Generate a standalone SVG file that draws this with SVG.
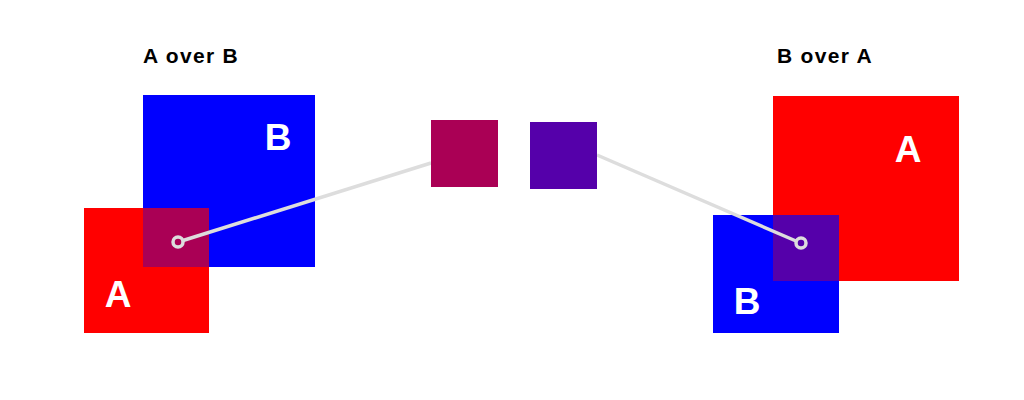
<svg xmlns="http://www.w3.org/2000/svg" width="1024" height="400" viewBox="0 0 1024 400">
<style>
.title{font-family:"Liberation Sans",Arial,sans-serif;font-weight:700;font-size:21px;letter-spacing:1.3px;fill:#000}
.lbl{font-family:"Liberation Sans",Arial,sans-serif;font-weight:700;font-size:37px;fill:#fff;text-anchor:middle}
.conn{stroke:#dddddd;stroke-width:3.5;fill:none}
</style>
<rect width="1024" height="400" fill="#fff"/>
<g id="left-title"><text class="title" x="143" y="63">A over B</text></g>
<g id="right-title"><text class="title" x="777" y="63">B over A</text></g>
<g id="left-B"><rect x="143" y="95" width="172" height="172" fill="#0000ff"/><text class="lbl" x="278" y="150">B</text></g>
<g id="left-A"><rect x="84" y="208" width="125" height="125" fill="#ff0000"/><text class="lbl" x="118" y="307">A</text></g>
<g id="left-overlap"><rect x="143" y="208" width="66" height="59" fill="#aa0055"/></g>
<g id="right-A"><rect x="773" y="96" width="186" height="185" fill="#ff0000"/><text class="lbl" x="908" y="162">A</text></g>
<g id="right-B"><rect x="713" y="215" width="126" height="118" fill="#0000ff"/><text class="lbl" x="747" y="314">B</text></g>
<g id="right-overlap"><rect x="773" y="215" width="66" height="66" fill="#5500aa"/></g>
<g id="connectors">
<line class="conn" x1="183" y1="240.5" x2="431" y2="163"/>
<circle class="conn" cx="178" cy="242" r="5"/>
<line class="conn" x1="796" y1="241" x2="597" y2="155"/>
<circle class="conn" cx="801" cy="243" r="5"/>
</g>
<g id="swatch-1"><rect x="431" y="120" width="67" height="67" fill="#aa0055"/></g>
<g id="swatch-2"><rect x="530" y="122" width="67" height="67" fill="#5500aa"/></g>
</svg>
